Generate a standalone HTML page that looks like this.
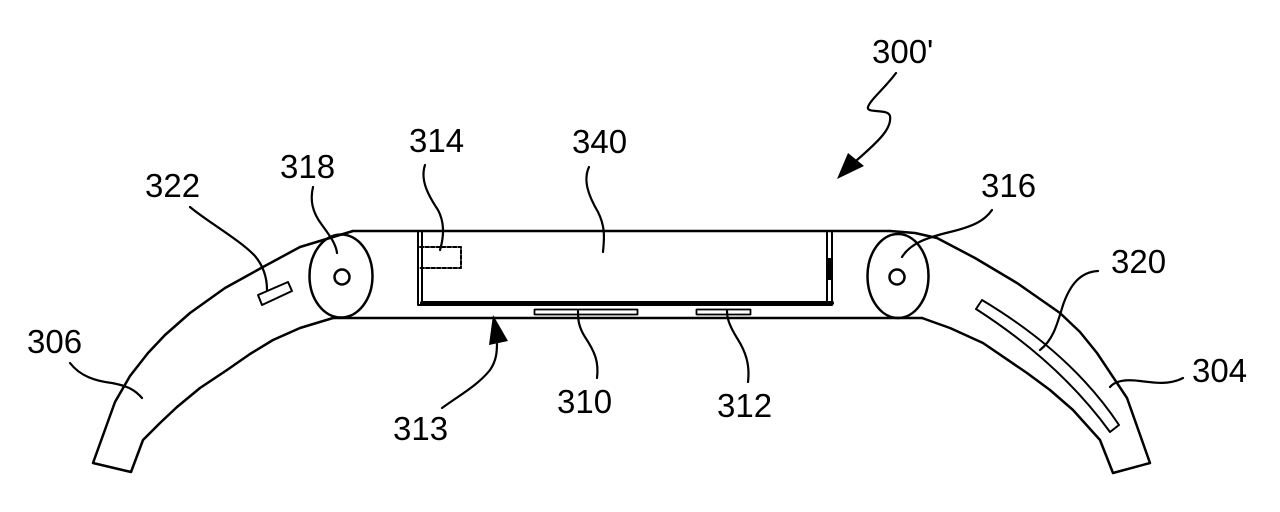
<!DOCTYPE html>
<html><head><meta charset="utf-8"><style>
html,body{margin:0;padding:0;background:#fff;}
svg{display:block;}
text{font-family:"Liberation Sans",Arial,sans-serif;font-size:33px;fill:#000;}
</style></head><body>
<svg width="1280" height="512" viewBox="0 0 1280 512" xmlns="http://www.w3.org/2000/svg">
<g fill="none" stroke="#000" stroke-width="2.5" stroke-linejoin="round" stroke-linecap="round">
<!-- left band -->
<polyline points="353,231 300,247 263,267 225,288 190,313 165,335 148,353 130,376 115,402 93,463 131,472 143,440 160,423 177,407 200,388 227,370 250,354 273,340 300,328 333,318"/>
<!-- right band -->
<polyline points="890,231 915,233 937,238 975,258 1017,283 1060,313 1080,332 1097,353 1127,398 1150,463 1113,473 1100,440 1073,410 1050,390 1027,373 983,343 950,328 922,318"/>
<!-- top line -->
<line x1="353" y1="231" x2="890" y2="231"/>
<!-- bottom line -->
<line x1="333" y1="318" x2="922" y2="318"/>
<!-- outer box -->
<polyline points="418,231 418,305 832,305 832,231" stroke-width="2"/>
<!-- inner box -->
<polyline points="422,231 422,302 827,302 827,231" stroke-width="2"/>
<line x1="422" y1="303" x2="832" y2="303" stroke-width="4"/>
<!-- ellipses -->
<ellipse cx="341" cy="276" rx="31.5" ry="41.5"/>
<circle cx="342" cy="277" r="7.5"/>
<ellipse cx="898" cy="276" rx="30.5" ry="42"/>
<circle cx="897" cy="277" r="7.5"/>
<!-- 322 small rect -->
<polygon points="258,295 288,282 292,291 262,305" stroke-width="2"/>
<!-- 320 strip -->
<path d="M982,300 Q1072,354 1119,425 L1110,432 Q1060,363 976,309 Z" stroke-width="2"/>
<!-- 310 / 312 strips -->
<rect x="534.5" y="309.5" width="103" height="5" stroke-width="1.8"/>
<rect x="696.5" y="309.5" width="54" height="5" stroke-width="1.8"/>
<!-- dashed 314 -->
<path d="M420,247 H461 V268 H420" stroke-width="2" stroke-dasharray="3.5,2"/>
<!-- leaders -->
<path d="M190,207 C205,220 240,240 255,256 C265,268 267,280 267,290" stroke-width="2.2"/>
<path d="M313,187 C310,200 312,212 322,225 C330,236 336,244 337,253" stroke-width="2.2"/>
<path d="M70,363 C80,376 95,381 112,383 C128,386 135,390 142,398" stroke-width="2.2"/>
<path d="M425,165 C420,180 428,195 438,210 C446,225 443,240 440,250" stroke-width="2.2"/>
<path d="M589,167 C583,180 588,195 598,212 C606,228 604,240 603,252" stroke-width="2.2"/>
<path d="M597,378 C599,362 595,352 585,337 C578,326 578,318 578,311" stroke-width="2.2"/>
<path d="M748,382 C750,365 746,352 737,338 C729,325 727,318 727,311" stroke-width="2.2"/>
<path d="M992,210 C985,220 975,226 950,232 C925,238 910,244 902,257" stroke-width="2.2"/>
<path d="M1098,271 C1080,272 1070,285 1063,305 C1057,325 1053,340 1040,350" stroke-width="2.2"/>
<path d="M1183,378 C1170,385 1155,383 1140,381 C1125,379 1115,381 1110,387" stroke-width="2.2"/>
<path d="M442,408 C460,395 478,385 490,370 C497,360 497,350 497,342" stroke-width="2.2"/>
<path d="M896,73 C885,88 870,100 868,107 C866,114 888,108 890,116 C892,128 880,140 857,160" stroke-width="2.2"/>
</g>
<!-- arrowheads -->
<polygon points="493,315 489,345 508,341" fill="#000"/>
<polygon points="837,179 848,153 864,166" fill="#000"/>
<!-- thick segment right inner -->
<rect x="827" y="258" width="4" height="22" fill="#000"/>
<!-- labels -->
<text x="872" y="63">300'</text>
<text x="145" y="197">322</text>
<text x="280" y="178">318</text>
<text x="409" y="152">314</text>
<text x="572" y="153">340</text>
<text x="981" y="197">316</text>
<text x="1111" y="273">320</text>
<text x="1192" y="382">304</text>
<text x="27" y="353">306</text>
<text x="393" y="440">313</text>
<text x="557" y="413">310</text>
<text x="717" y="417">312</text>
</svg>
</body></html>
